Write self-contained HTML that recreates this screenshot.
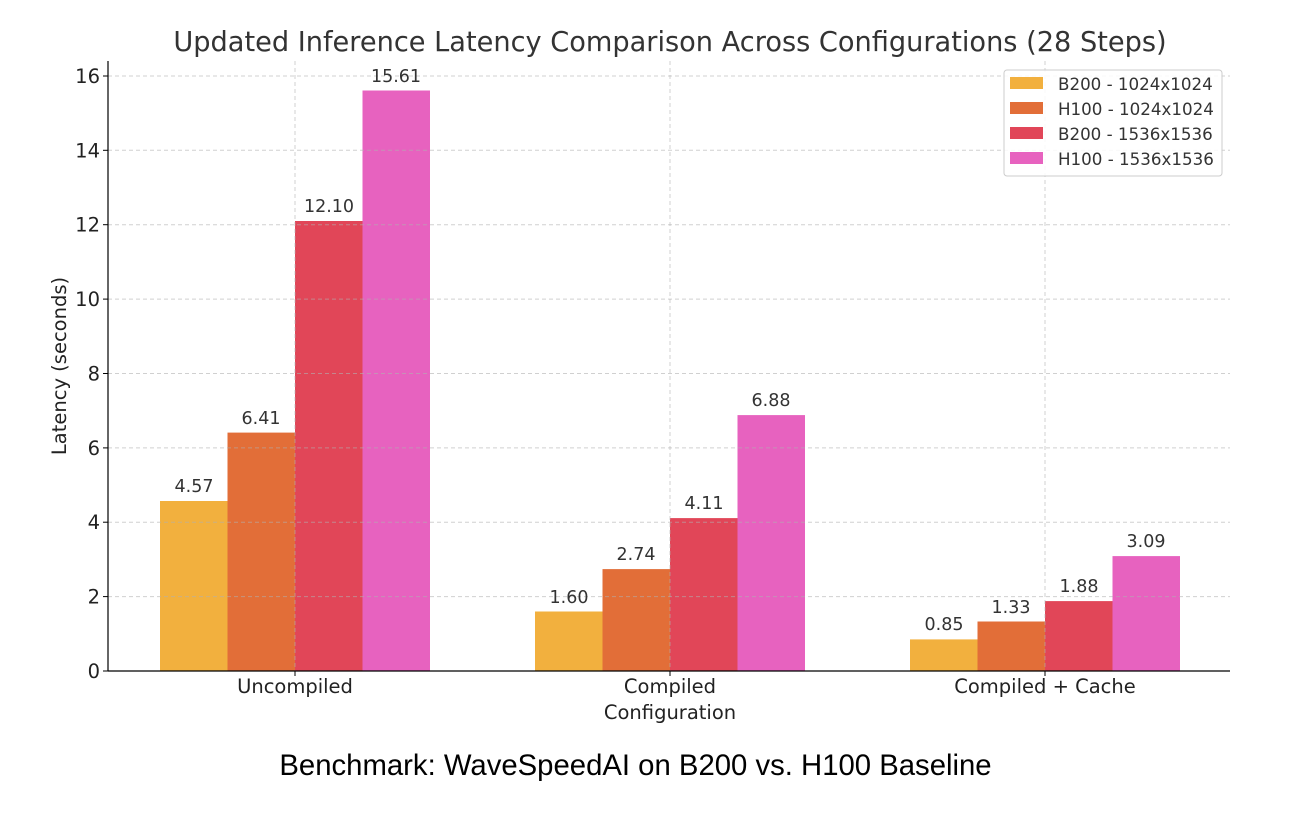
<!DOCTYPE html>
<html><head><meta charset="utf-8"><style>
html,body{margin:0;padding:0;background:#fff;}
svg{display:block;font-family:"DejaVu Sans","Liberation Sans",sans-serif;}
</style></head><body>
<svg width="1290" height="814" viewBox="0 0 1290 814" xmlns="http://www.w3.org/2000/svg">
<rect width="1290" height="814" fill="#fff"/>
<text x="670" y="51" font-size="27.2" fill="#333" text-anchor="middle">Updated Inference Latency Comparison Across Configurations (28 Steps)</text>
<g>
<rect x="160" y="501.0" width="67.5" height="170.0" fill="#F2B03E"/>
<rect x="227.5" y="432.6" width="67.5" height="238.4" fill="#E26E38"/>
<rect x="295" y="221.0" width="67.5" height="450.0" fill="#E14658"/>
<rect x="362.5" y="90.5" width="67.5" height="580.5" fill="#E762BF"/>
<rect x="535" y="611.5" width="67.5" height="59.5" fill="#F2B03E"/>
<rect x="602.5" y="569.1" width="67.5" height="101.9" fill="#E26E38"/>
<rect x="670" y="518.1" width="67.5" height="152.9" fill="#E14658"/>
<rect x="737.5" y="415.1" width="67.5" height="255.9" fill="#E762BF"/>
<rect x="910" y="639.4" width="67.5" height="31.6" fill="#F2B03E"/>
<rect x="977.5" y="621.5" width="67.5" height="49.5" fill="#E26E38"/>
<rect x="1045" y="601.1" width="67.5" height="69.9" fill="#E14658"/>
<rect x="1112.5" y="556.1" width="67.5" height="114.9" fill="#E762BF"/>
</g>
<g stroke="#b0b0b0" stroke-opacity="0.6" stroke-width="1" stroke-dasharray="4,3">
<line x1="108" y1="596.6" x2="1230" y2="596.6"/>
<line x1="108" y1="522.2" x2="1230" y2="522.2"/>
<line x1="108" y1="447.9" x2="1230" y2="447.9"/>
<line x1="108" y1="373.5" x2="1230" y2="373.5"/>
<line x1="108" y1="299.1" x2="1230" y2="299.1"/>
<line x1="108" y1="224.7" x2="1230" y2="224.7"/>
<line x1="108" y1="150.3" x2="1230" y2="150.3"/>
<line x1="108" y1="76" x2="1230" y2="76"/>
<line x1="295" y1="61" x2="295" y2="671"/>
<line x1="670" y1="61" x2="670" y2="671"/>
<line x1="1045" y1="61" x2="1045" y2="671"/>
</g>
<line x1="108" y1="61" x2="108" y2="671.5" stroke="#000" stroke-width="1.2"/>
<line x1="108" y1="671" x2="1230" y2="671" stroke="#000" stroke-width="1.2"/>
<g stroke="#000" stroke-width="1">
<line x1="103" y1="671" x2="108" y2="671"/><line x1="103" y1="596.6" x2="108" y2="596.6"/>
<line x1="103" y1="522.2" x2="108" y2="522.2"/><line x1="103" y1="447.9" x2="108" y2="447.9"/>
<line x1="103" y1="373.5" x2="108" y2="373.5"/><line x1="103" y1="299.1" x2="108" y2="299.1"/>
<line x1="103" y1="224.7" x2="108" y2="224.7"/><line x1="103" y1="150.3" x2="108" y2="150.3"/>
<line x1="103" y1="76" x2="108" y2="76"/>
<line x1="295" y1="671" x2="295" y2="676"/><line x1="670" y1="671" x2="670" y2="676"/><line x1="1045" y1="671" x2="1045" y2="676"/>
</g>
<g font-size="19.5" fill="#222" text-anchor="end">
<text x="100" y="678">0</text><text x="100" y="603.6">2</text><text x="100" y="529.2">4</text>
<text x="100" y="454.9">6</text><text x="100" y="380.5">8</text><text x="100" y="306.1">10</text>
<text x="100" y="231.7">12</text><text x="100" y="157.3">14</text><text x="100" y="83">16</text>
</g>
<g font-size="19.5" fill="#222" text-anchor="middle">
<text x="295" y="693">Uncompiled</text><text x="670" y="693">Compiled</text><text x="1045" y="693">Compiled + Cache</text>
<text x="670" y="719">Configuration</text>
</g>
<text transform="translate(66,366) rotate(-90)" font-size="19.5" fill="#222" text-anchor="middle">Latency (seconds)</text>
<g font-size="17.5" fill="#333" text-anchor="middle">
<text x="194" y="492">4.57</text><text x="261" y="424">6.41</text><text x="329" y="212">12.10</text><text x="396" y="82">15.61</text>
<text x="569" y="603">1.60</text><text x="636" y="560">2.74</text><text x="704" y="509">4.11</text><text x="771" y="406">6.88</text>
<text x="944" y="630">0.85</text><text x="1011" y="613">1.33</text><text x="1079" y="592">1.88</text><text x="1146" y="547">3.09</text>
</g>
<rect x="1004" y="70" width="218" height="106" rx="3" fill="#fff" fill-opacity="0.85" stroke="#ccc"/>
<rect x="1010" y="77" width="33" height="12" fill="#F2B03E"/>
<rect x="1010" y="102" width="33" height="12" fill="#E26E38"/>
<rect x="1010" y="127" width="33" height="12" fill="#E14658"/>
<rect x="1010" y="152" width="33" height="12" fill="#E762BF"/>
<g font-size="16.7" fill="#333">
<text x="1058" y="90">B200 - 1024x1024</text><text x="1058" y="115">H100 - 1024x1024</text>
<text x="1058" y="140">B200 - 1536x1536</text><text x="1058" y="165">H100 - 1536x1536</text>
</g>
<text x="635.5" y="775" font-family="Liberation Sans, sans-serif" font-size="29.3" fill="#000" text-anchor="middle">Benchmark: WaveSpeedAI on B200 vs. H100 Baseline</text>
</svg>
</body></html>
